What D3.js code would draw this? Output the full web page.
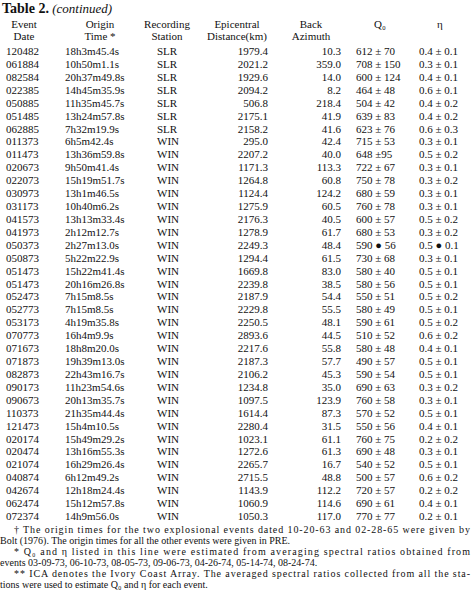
<!DOCTYPE html>
<html><head><meta charset="utf-8">
<script src="https://cdn.jsdelivr.net/npm/d3@7"></script>
<style>body{margin:0;background:#fff}svg text{font-family:"Liberation Serif","DejaVu Serif",serif;fill:#111}</style>
</head><body><div id="table-container"></div>
<script>
// Table columns
const dates = ["120482","061884","082584","022385","050885","051485","062885","011373","011473","020673","022073","030973","031173","041573","041973","050373","050873","051473","051473","052473","052773","053173","070773","071673","071873","082873","090173","090673","110373","121473","020174","020474","021074","040874","042674","062474","072374"];
const times = ["18h3m45.4s","10h50m1.1s","20h37m49.8s","14h45m35.9s","11h35m45.7s","13h24m57.8s","7h32m19.9s","6h5m42.4s","13h36m59.8s","9h50m41.4s","15h19m51.7s","13h1m46.5s","10h40m6.2s","13h13m33.4s","2h12m12.7s","2h27m13.0s","5h22m22.9s","15h22m41.4s","20h16m26.8s","7h15m8.5s","7h15m8.5s","4h19m35.8s","16h4m9.9s","18h8m20.0s","19h39m13.0s","22h43m16.7s","11h23m54.6s","20h13m35.7s","21h35m44.4s","15h4m10.5s","15h49m29.2s","13h16m55.3s","16h29m26.4s","6h12m49.2s","12h18m24.4s","15h12m57.8s","14h9m56.0s"];
const stations = ["SLR","SLR","SLR","SLR","SLR","SLR","SLR","WIN","WIN","WIN","WIN","WIN","WIN","WIN","WIN","WIN","WIN","WIN","WIN","WIN","WIN","WIN","WIN","WIN","WIN","WIN","WIN","WIN","WIN","WIN","WIN","WIN","WIN","WIN","WIN","WIN","WIN"];
const distances = ["1979.4","2021.2","1929.6","2094.2","506.8","2175.1","2158.2","295.0","2207.2","1171.3","1264.8","1124.4","1275.9","2176.3","1278.9","2249.3","1294.4","1669.8","2239.8","2187.9","2229.8","2250.5","2893.6","2217.6","2187.3","2106.2","1234.8","1097.5","1614.4","2280.4","1023.1","1272.6","2265.7","2715.5","1143.9","1060.9","1050.3"];
const azimuths = ["10.3","359.0","14.0","8.2","218.4","41.9","41.6","42.4","40.0","113.3","60.8","124.2","60.5","40.5","61.7","48.4","61.5","83.0","38.5","54.4","55.5","48.1","44.5","55.8","57.7","45.3","35.0","123.9","87.3","31.5","61.1","61.3","16.7","48.8","112.2","114.6","117.0"];
const q0 = ["612 ± 70","708 ± 150","600 ± 124","464 ± 48","504 ± 42","639 ± 83","623 ± 76","715 ± 53","648 ±95","722 ± 67","750 ± 78","680 ± 59","760 ± 78","600 ± 57","680 ± 53","590 ● 56","730 ± 68","580 ± 40","580 ± 56","550 ± 51","580 ± 49","590 ± 61","510 ± 52","580 ± 48","490 ± 57","590 ± 54","690 ± 63","760 ± 58","570 ± 52","550 ± 56","760 ± 75","690 ± 48","540 ± 52","500 ± 57","720 ± 57","690 ± 61","770 ± 77"];
const eta = ["0.4 ± 0.1","0.3 ± 0.1","0.4 ± 0.1","0.6 ± 0.1","0.4 ± 0.2","0.4 ± 0.2","0.6 ± 0.3","0.3 ± 0.1","0.5 ± 0.2","0.3 ± 0.1","0.3 ± 0.2","0.3 ± 0.1","0.3 ± 0.1","0.5 ± 0.2","0.3 ± 0.2","0.5 ● 0.1","0.3 ± 0.1","0.5 ± 0.1","0.5 ± 0.1","0.5 ± 0.2","0.5 ± 0.1","0.5 ± 0.2","0.6 ± 0.2","0.4 ± 0.1","0.5 ± 0.1","0.5 ± 0.1","0.3 ± 0.2","0.3 ± 0.1","0.5 ± 0.1","0.4 ± 0.1","0.2 ± 0.2","0.3 ± 0.1","0.5 ± 0.1","0.6 ± 0.2","0.2 ± 0.2","0.4 ± 0.1","0.2 ± 0.1"];
const headers = [["Event","Date"],["Origin","Time *"],["Recording","Station"],["Epicentral","Distance(km)"],["Back","Azimuth"],["Q₀",""],["η",""]];
const footnotes = [
  "† The origin times for the two explosional events dated 10-20-63 and 02-28-65 were given by",
  "Bolt (1976).  The origin times for all the other events were given in PRE.",
  "* Q₀ and η listed in this line were estimated from averaging spectral ratios obtained from",
  "events 03-09-73, 06-10-73, 08-05-73, 09-06-73, 04-26-74, 05-14-74, 08-24-74.",
  "** ICA denotes the Ivory Coast Array.  The averaged spectral ratios collected from all the sta-",
  "tions were used to estimate Q₀ and η for each event."
];

const width = 474, height = 604;
const svg = d3.select("#table-container").append("svg").attr("width", width).attr("height", height);

// Title
const title = svg.append("text").attr("x", 2).attr("y", 13).attr("font-size", 14);
title.append("tspan").attr("font-weight", "bold").text("Table 2.");
title.append("tspan").attr("font-style", "italic").attr("font-size", 13).text("  (continued)");

// Column layout
const cols = [
  { x: 6, anchor: "start", data: dates, hx: 24 },
  { x: 65, anchor: "start", data: times, hx: 100 },
  { x: 157, anchor: "start", data: stations, hx: 167 },
  { x: 268, anchor: "end", data: distances, hx: 237 },
  { x: 341, anchor: "end", data: azimuths, hx: 311 },
  { x: 356, anchor: "start", data: q0, hx: 380 },
  { x: 419, anchor: "start", data: eta, hx: 440 }
];

const y = d3.scaleLinear().domain([0, dates.length - 1]).range([55, 520]);

const head = svg.append("g").attr("font-size", 11);
headers.forEach((h, i) => {
  head.append("text").attr("x", cols[i].hx).attr("y", 28).attr("text-anchor", "middle").text(h[0]);
  head.append("text").attr("x", cols[i].hx).attr("y", 40).attr("text-anchor", "middle").text(h[1]);
});

cols.forEach(c => {
  svg.append("g").selectAll("text")
    .data(c.data)
    .join("text")
      .attr("x", c.x)
      .attr("y", (d, i) => y(i))
      .attr("text-anchor", c.anchor)
      .attr("font-size", 11)
      .text(d => d);
});

// Footnotes
const fy = [533, 544, 555, 566, 577, 588];
footnotes.forEach((t, i) => {
  const first = i % 2 === 0;
  svg.append("text")
    .attr("x", first ? 14 : 0)
    .attr("y", fy[i])
    .attr("font-size", 10)
    .attr("textLength", (i === 1 || i === 3 || i === 5) ? null : (first ? 456 : 470))
    .attr("lengthAdjust", "spacing")
    .text(t);
});
</script>
</body></html>
